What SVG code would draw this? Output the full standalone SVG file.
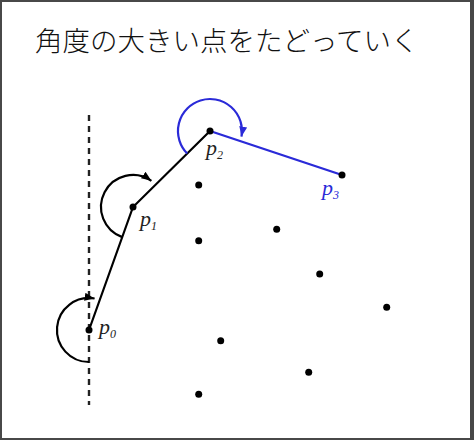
<svg xmlns="http://www.w3.org/2000/svg" width="474" height="440" viewBox="0 0 474 440">
<style>
.pt{fill:#000}
.lbl{font-family:"Liberation Serif",serif;font-style:italic;font-size:22px;fill:#222}
.sub{font-size:12px}
.blue{fill:#2a2ad8}
.edge{fill:none;stroke:#000;stroke-width:2.2}
.bedge{fill:none;stroke:#2a2ad8;stroke-width:2.2}
.arc{fill:none;stroke:#000;stroke-width:2.2}
.barc{fill:none;stroke:#2a2ad8;stroke-width:2.2}
</style>
<defs>
<marker id="ah" markerUnits="userSpaceOnUse" markerWidth="11" markerHeight="9" refX="10" refY="4" orient="auto" viewBox="0 0 11 9"><path d="M0,0 L10,4 L0,8 z" fill="#000"/></marker>
<marker id="ahb" markerUnits="userSpaceOnUse" markerWidth="11" markerHeight="9" refX="10" refY="4" orient="auto" viewBox="0 0 11 9"><path d="M0,0 L10,4 L0,8 z" fill="#2a2ad8"/></marker>
</defs>
<rect x="0" y="0" width="474" height="440" fill="#484848"/>
<rect x="2" y="2" width="468" height="436" fill="#fff"/>
<text x="35" y="51" font-family="'Noto Sans CJK JP',sans-serif" font-weight="300" font-size="27.5" fill="#111">角度の大きい点をたどっていく</text>
<g id="connectors">
<line x1="89" y1="115" x2="89" y2="405" stroke="#222" stroke-width="2.4" stroke-dasharray="6 5"/>
<path class="edge" d="M89,330 L133,207 L210,131"/>
<path class="bedge" d="M210,131 L342,175"/>
<path class="arc" d="M89,362 A32,32 0 1 1 94.6,298.5" marker-end="url(#ah)"/>
<path class="arc" d="M122.2,237.1 A32,32 0 1 1 151.4,180.8" marker-end="url(#ah)"/>
<path class="barc" d="M187.2,153.5 A32,32 0 1 1 241.5,136.6" marker-end="url(#ahb)"/>
</g>
<g id="p0"><circle class="pt" cx="89" cy="330" r="3.5"/><text class="lbl" x="99" y="334">p<tspan class="sub" dy="4">0</tspan></text></g>
<g id="p1"><circle class="pt" cx="133" cy="207" r="3.5"/><text class="lbl" x="140" y="226">p<tspan class="sub" dy="4">1</tspan></text></g>
<g id="p2"><circle class="pt" cx="210" cy="131" r="3.5"/><text class="lbl" x="206" y="155">p<tspan class="sub" dy="4">2</tspan></text></g>
<g id="p3"><circle class="pt" cx="342" cy="175" r="3.5"/><text class="lbl blue" x="322" y="195">p<tspan class="sub" dy="4">3</tspan></text></g>
<g id="pt4"><circle class="pt" cx="198.7" cy="185" r="3.5"/></g>
<g id="pt5"><circle class="pt" cx="198.7" cy="240.7" r="3.5"/></g>
<g id="pt6"><circle class="pt" cx="276.7" cy="229.3" r="3.5"/></g>
<g id="pt7"><circle class="pt" cx="319.7" cy="274" r="3.5"/></g>
<g id="pt8"><circle class="pt" cx="386.7" cy="307.3" r="3.5"/></g>
<g id="pt9"><circle class="pt" cx="220.7" cy="340.7" r="3.5"/></g>
<g id="pt10"><circle class="pt" cx="308.7" cy="372.3" r="3.5"/></g>
<g id="pt11"><circle class="pt" cx="198.7" cy="394.3" r="3.5"/></g>
</svg>
